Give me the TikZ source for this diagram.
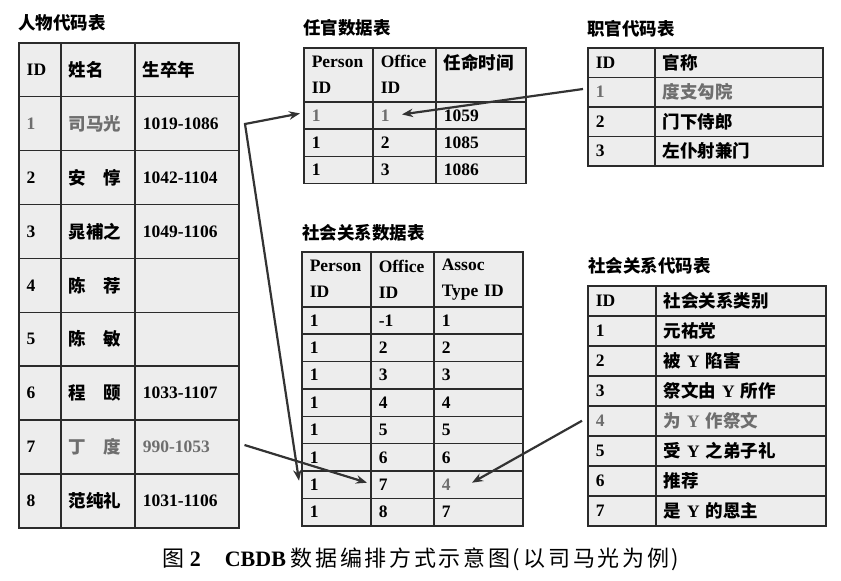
\documentclass[tikz,border=0pt]{standalone}
\usepackage{fontspec}
\setmainfont{Liberation Serif}
\newfontfamily\cjk{Noto Sans CJK SC}
\usetikzlibrary{arrows.meta}
\definecolor{linec}{HTML}{2B2B2B}
\definecolor{cellc}{HTML}{EDEDED}
\definecolor{hlc}{HTML}{6E6E6E}
\definecolor{arrc}{HTML}{333333}
\newcommand\zh[1]{{\cjk #1}}
\newcommand\hl{\color{hlc}}
\tikzset{
  cell/.style={draw=linec, fill=cellc, line width=1.5pt, anchor=north west,
    inner xsep=8pt, inner ysep=0pt, align=left,
    font=\fontsize{17.5}{26}\selectfont\bfseries},
  ttl/.style={anchor=west, inner sep=0pt, font=\fontsize{17.5}{21}\selectfont\cjk\bfseries},
  conn/.style={draw=arrc, line width=2.2pt},
  tip/.tip={Stealth[length=11pt,width=8.5pt]},
}
\newcommand\cel[6]{\pgfmathsetmacro\celtw{#4-16}\node[cell, text width=\celtw pt, minimum height=#5 pt] (#1) at (#2,#3) {#6};}
\begin{document}
\begin{tikzpicture}[x=1pt,y=-1pt]
\fill[white] (0,0) rectangle (841,581);
\useasboundingbox (0,0) rectangle (841,581);

% titles
\node[ttl] (T1) at (18,23) {人物代码表};
\node[ttl] (T2) at (303,28) {任官数据表};
\node[ttl] (T3) at (587,29) {职官代码表};
\node[ttl] (T4) at (302,233) {社会关系数据表};
\node[ttl] (T5) at (588,266) {社会关系代码表};

% table 1: persons
\foreach \i/\a/\b/\c in {0/ID/\zh{姓名}/\zh{生卒年},
  1/{\hl 1}/{\hl\zh{司马光}}/1019-1086,
  2/2/\zh{安\quad 惇}/1042-1104,
  3/3/\zh{晁補之}/1049-1106,
  4/4/\zh{陈\quad 荐}/{},
  5/5/\zh{陈\quad 敏}/{},
  6/6/\zh{程\quad 颐}/1033-1107,
  7/7/{\hl\zh{丁\quad 度}}/{\hl 990-1053},
  8/8/\zh{范纯礼}/1031-1106}{
  \pgfmathsetmacro\yy{42+53.9*\i}
  \cel{p\i a}{18}{\yy}{42}{53.9}{\a}
  \cel{p\i b}{60}{\yy}{74}{53.9}{\b}
  \cel{p\i c}{134}{\yy}{104}{53.9}{\c}
}

% table 2: office holding
\cel{o0a}{303}{47}{69}{54}{Person\\ID}
\cel{o0b}{372}{47}{63}{54}{Office\\ID}
\cel{o0c}{435}{47}{90}{54}{\zh{任命时间}\\\mbox{}}
\foreach \i/\a/\b/\c in {1/{\hl 1}/{\hl 1}/1059, 2/1/2/1085, 3/1/3/1086}{
  \pgfmathsetmacro\yy{101+27.33*(\i-1)}
  \cel{o\i a}{303}{\yy}{69}{27.33}{\a}
  \cel{o\i b}{372}{\yy}{63}{27.33}{\b}
  \cel{o\i c}{435}{\yy}{90}{27.33}{\c}
}

% table 3: office codes
\foreach \i/\a/\b in {0/ID/\zh{官称}, 1/{\hl 1}/{\hl\zh{度支勾院}}, 2/2/\zh{门下侍郎}, 3/3/\zh{左仆射兼门}}{
  \pgfmathsetmacro\yy{47+29.5*\i}
  \cel{g\i a}{587}{\yy}{67}{29.5}{\a}
  \cel{g\i b}{654}{\yy}{168}{29.5}{\b}
}

% table 4: association data
\cel{s0a}{301}{251}{69}{55}{Person\\ID}
\cel{s0b}{370}{251}{63}{55}{Office\\ID}
\cel{s0c}{433}{251}{89}{55}{Assoc\\Type ID}
\foreach \i/\a/\b/\c in {1/1/-1/1, 2/1/2/2, 3/1/3/3, 4/1/4/4, 5/1/5/5, 6/1/6/6, 7/1/7/{\hl 4}, 8/1/8/7}{
  \pgfmathsetmacro\yy{306+27.375*(\i-1)}
  \cel{s\i a}{301}{\yy}{69}{27.375}{\a}
  \cel{s\i b}{370}{\yy}{63}{27.375}{\b}
  \cel{s\i c}{433}{\yy}{89}{27.375}{\c}
}

% table 5: association codes
\foreach \i/\a/\b in {0/ID/\zh{社会关系类别}, 1/1/\zh{元祐党}, 2/2/\zh{被} Y \zh{陷害},
  3/3/\zh{祭文由} Y \zh{所作}, 4/{\hl 4}/{\hl\zh{为} Y \zh{作祭文}},
  5/5/\zh{受} Y \zh{之弟子礼}, 6/6/\zh{推荐}, 7/7/\zh{是} Y \zh{的恩主}}{
  \pgfmathsetmacro\yy{285+30*\i}
  \cel{r\i a}{587}{\yy}{68}{30}{\a}
  \cel{r\i b}{655}{\yy}{170}{30}{\b}
}

% connectors
\coordinate (kA) at (245,124);
\draw[conn, tip-tip] ([shift={(-3,-2)}]o1a.west) -- (kA) -- ([shift={(-2,-4)}]s7a.west);
\draw[conn, -tip] ([shift={(5,-2)}]p7c.east) -- ([shift={(-3,-2)}]s7b.west);
\draw[conn, -tip] ([shift={(-4,-3)}]g1a.west) -- ([shift={(30,-1)}]o1b.west);
\draw[conn, -tip] ([shift={(-5,0)}]r4a.west) -- ([shift={(39,-2)}]s7c.west);

% caption
\node[anchor=west, inner sep=0pt] (cap) at (162,559) {\fontsize{22}{24}\selectfont
  {\cjk\addfontfeature{LetterSpace=12}图}\hspace{3pt}\textbf{2}\hspace{24pt}\textbf{CBDB}\hspace{5pt}{\cjk\addfontfeature{LetterSpace=12}数据编排方式示意图(\,以司马光为例)}};
\end{tikzpicture}
\end{document}
